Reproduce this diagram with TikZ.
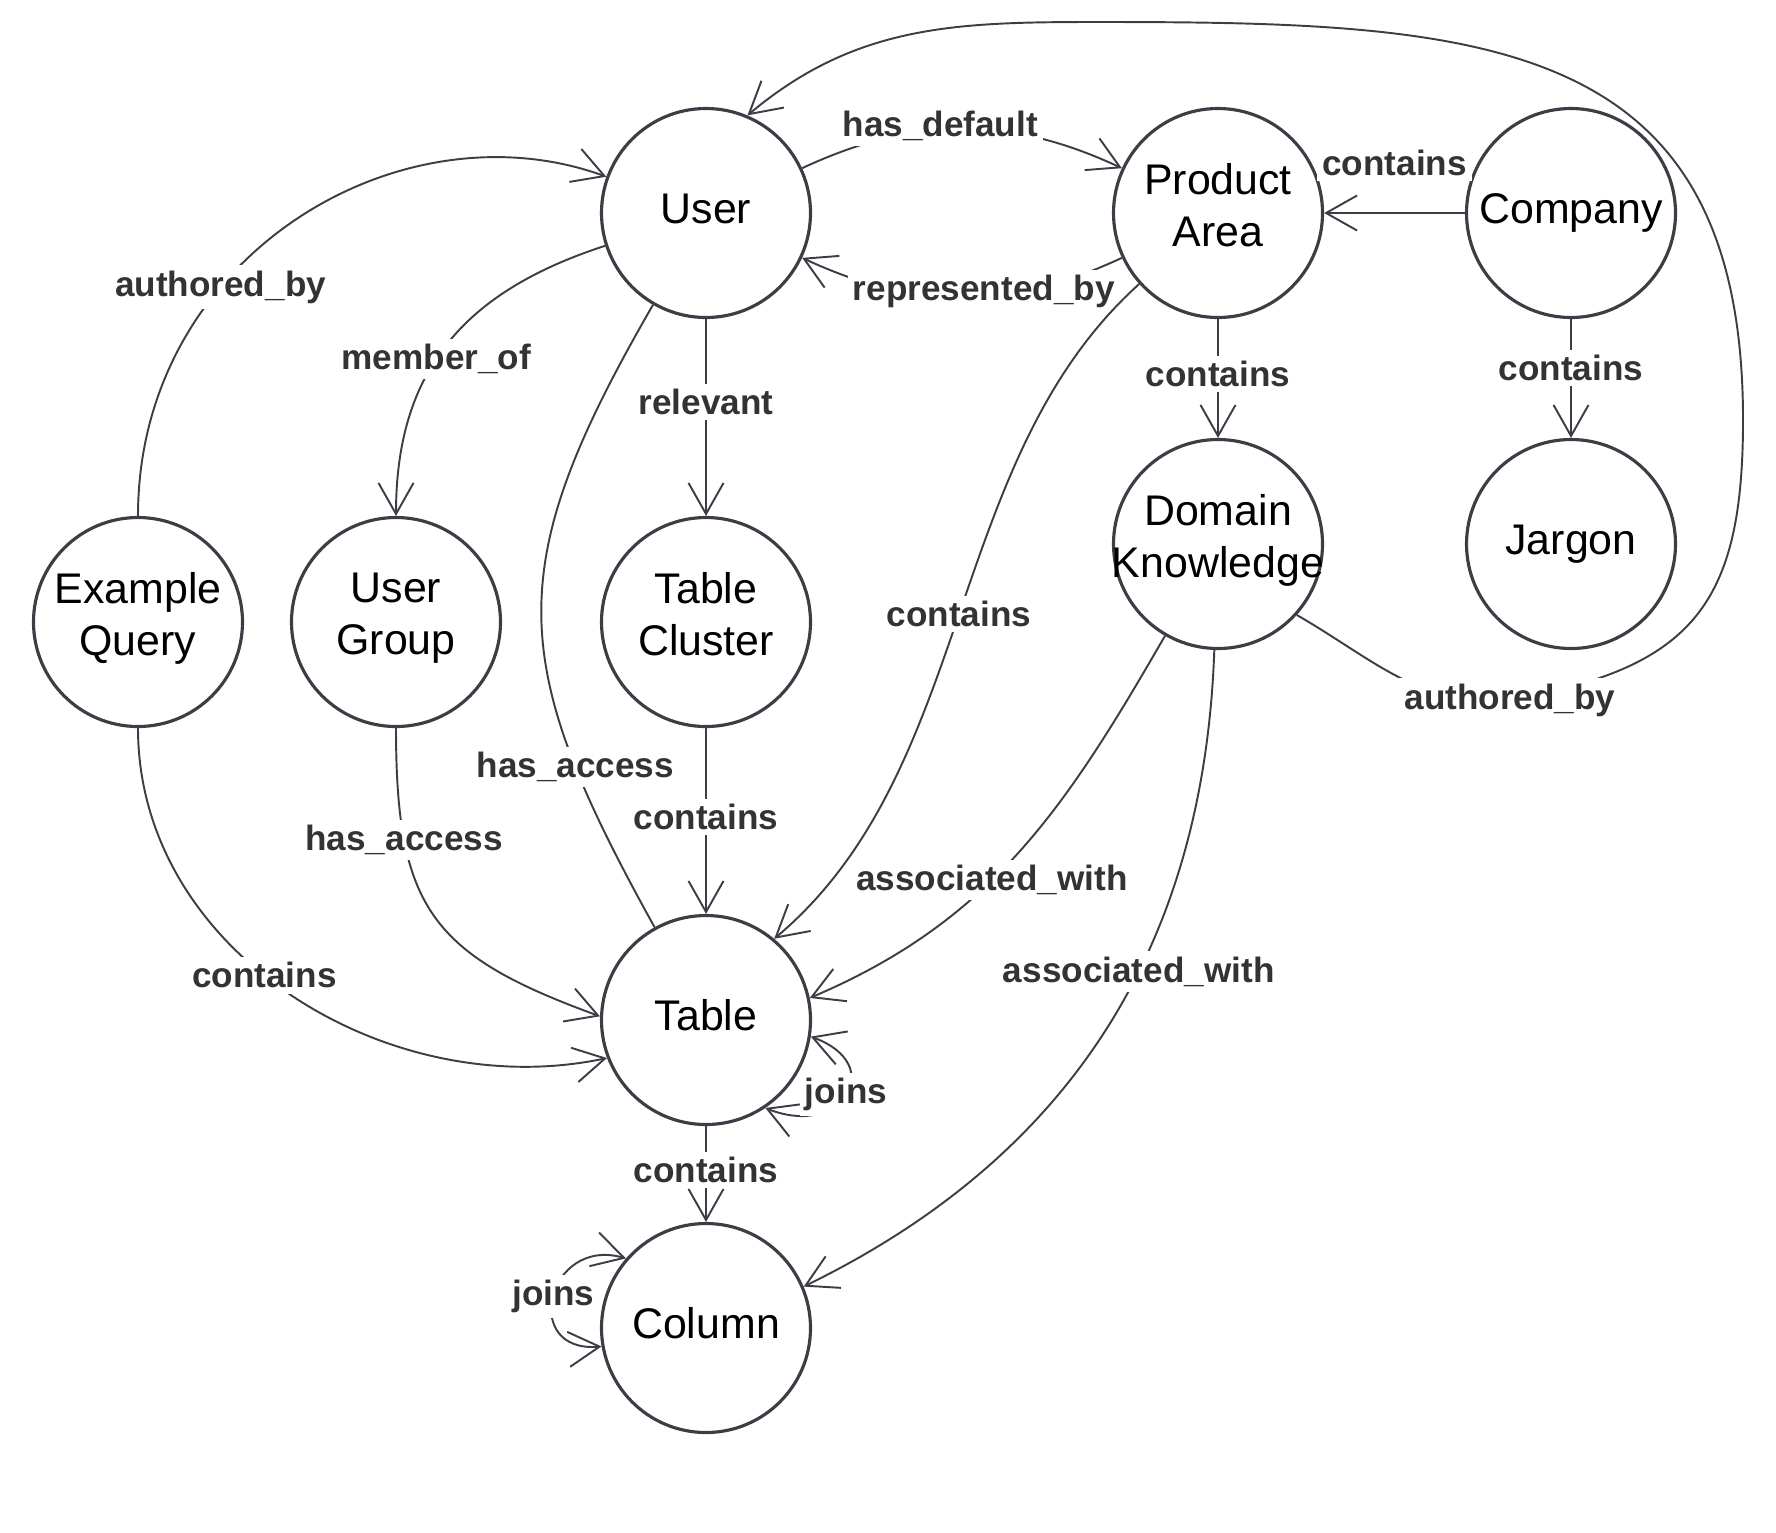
\documentclass[tikz,border=0pt]{standalone}
\usepackage{fontspec}
\setmainfont{Liberation Sans}
\usetikzlibrary{arrows.meta,positioning}

\definecolor{edgegray}{HTML}{3B3F45}
\definecolor{labelgray}{HTML}{333333}

\tikzset{
  entity/.style={circle, draw=edgegray, line width=0.9pt, text=black,
    minimum size=20.9mm, inner sep=0pt, align=center,
    font=\fontsize{12.2}{14.8}\selectfont,
    execute at begin node=\strut, execute at end node=\strut},
  rel/.style={fill=white, inner sep=1.5pt, text=labelgray,
    font=\bfseries\fontsize{10}{12}\selectfont},
}

\begin{document}
\begin{tikzpicture}[>={Straight Barb[length=3.1mm,width=3.5mm]}, on grid,
    color=edgegray, line width=0.55pt]
    \useasboundingbox (0,0) rectangle (17.76,-15.32);

    \node[entity] (user) at (7.06,-2.13) {User};
    \node[entity] (area) [right=5.12cm of user] {Product\\Area};
    \node[entity] (company) [right=3.53cm of area] {Company};
    \node[entity] (knowledge) [below=3.31cm of area] {Domain\\\makebox[0pt]{Knowledge}};
    \node[entity] (jargon) [below=3.31cm of company] {Jargon};
    \node[entity] (cluster) [below=4.09cm of user] {Table\\Cluster};
    \node[entity] (group) [left=3.10cm of cluster] {User\\Group};
    \node[entity] (query) [left=2.58cm of group] {Example\\Query};
    \node[entity] (table) [below=3.98cm of cluster] {Table};
    \node[entity] (column) [below=3.08cm of table] {Column};

    % straight ones
    \path[->] (user) edge[bend left=25] node[rel, pos=0.43, yshift=0.4mm] {has\_default} (area);
    \path[->] (area) edge[bend left=25] node[rel, pos=0.43, yshift=0.5mm] {represented\_by} (user);
    \path[->] (company) edge node[rel, above=3.1mm] {contains} (area);
    \path[->] (company) edge node[rel, pos=0.41] {contains} (jargon);
    \path[->] (area) edge node[rel, pos=0.46] {contains} (knowledge);
    \path[->] (user) edge node[rel, pos=0.42] {relevant} (cluster);
    \path[->] (cluster) edge node[rel, pos=0.48] {contains} (table);
    \path[->] (table) edge node[rel, pos=0.46] {contains} (column);

    % left side
    \path[->] (user) edge[out=198, in=90, looseness=1.1] node[rel, pos=0.56] {member\_of} (group);
    \path[->] (query) edge[out=90, in=160, out distance=2.6cm, in distance=2.2cm]
        node[rel, pos=0.35] {authored\_by} (user);
    \path (user) edge[out=240, in=119, looseness=1.25] node[rel, pos=0.77] {has\_access} (table);
    \path[->] (group) edge[out=270, in=160, looseness=1.3] node[rel, pos=0.25] {has\_access} (table.178);
    \path[->] (query) edge[out=270, in=192] node[rel, pos=0.45] {contains} (table.201);

    % right side
    \path[->] (area) edge[out=222, in=40, looseness=0.9] node[rel, pos=0.5] {contains} (table.50);
    \path[->] (knowledge) edge[out=240, in=23] node[rel, pos=0.58] {associated\_with} (table.12);
    \path[->] (knowledge) edge[out=268, in=26] node[rel, pos=0.41] {associated\_with} (column.23);

    % all the way round to the user
    \draw[->] (knowledge.-42) to[out=-30, in=185] (15.10,-7.0) node[rel] {authored\_by}
        to[out=10, in=270, looseness=1.3] (17.43,-4.20)
        to[out=90, in=0, looseness=1.3] (10.98,-0.22)
        to[out=180, in=40] (user.67);

    % self joins
    \path[<->] (table.351) edge[out=-20, in=-22, looseness=2.5] node[rel] {joins} (table.304);
    \path[<->] (column.139) edge[out=164, in=185, looseness=2.3] node[rel] {joins} (column.190);
\end{tikzpicture}
\end{document}
